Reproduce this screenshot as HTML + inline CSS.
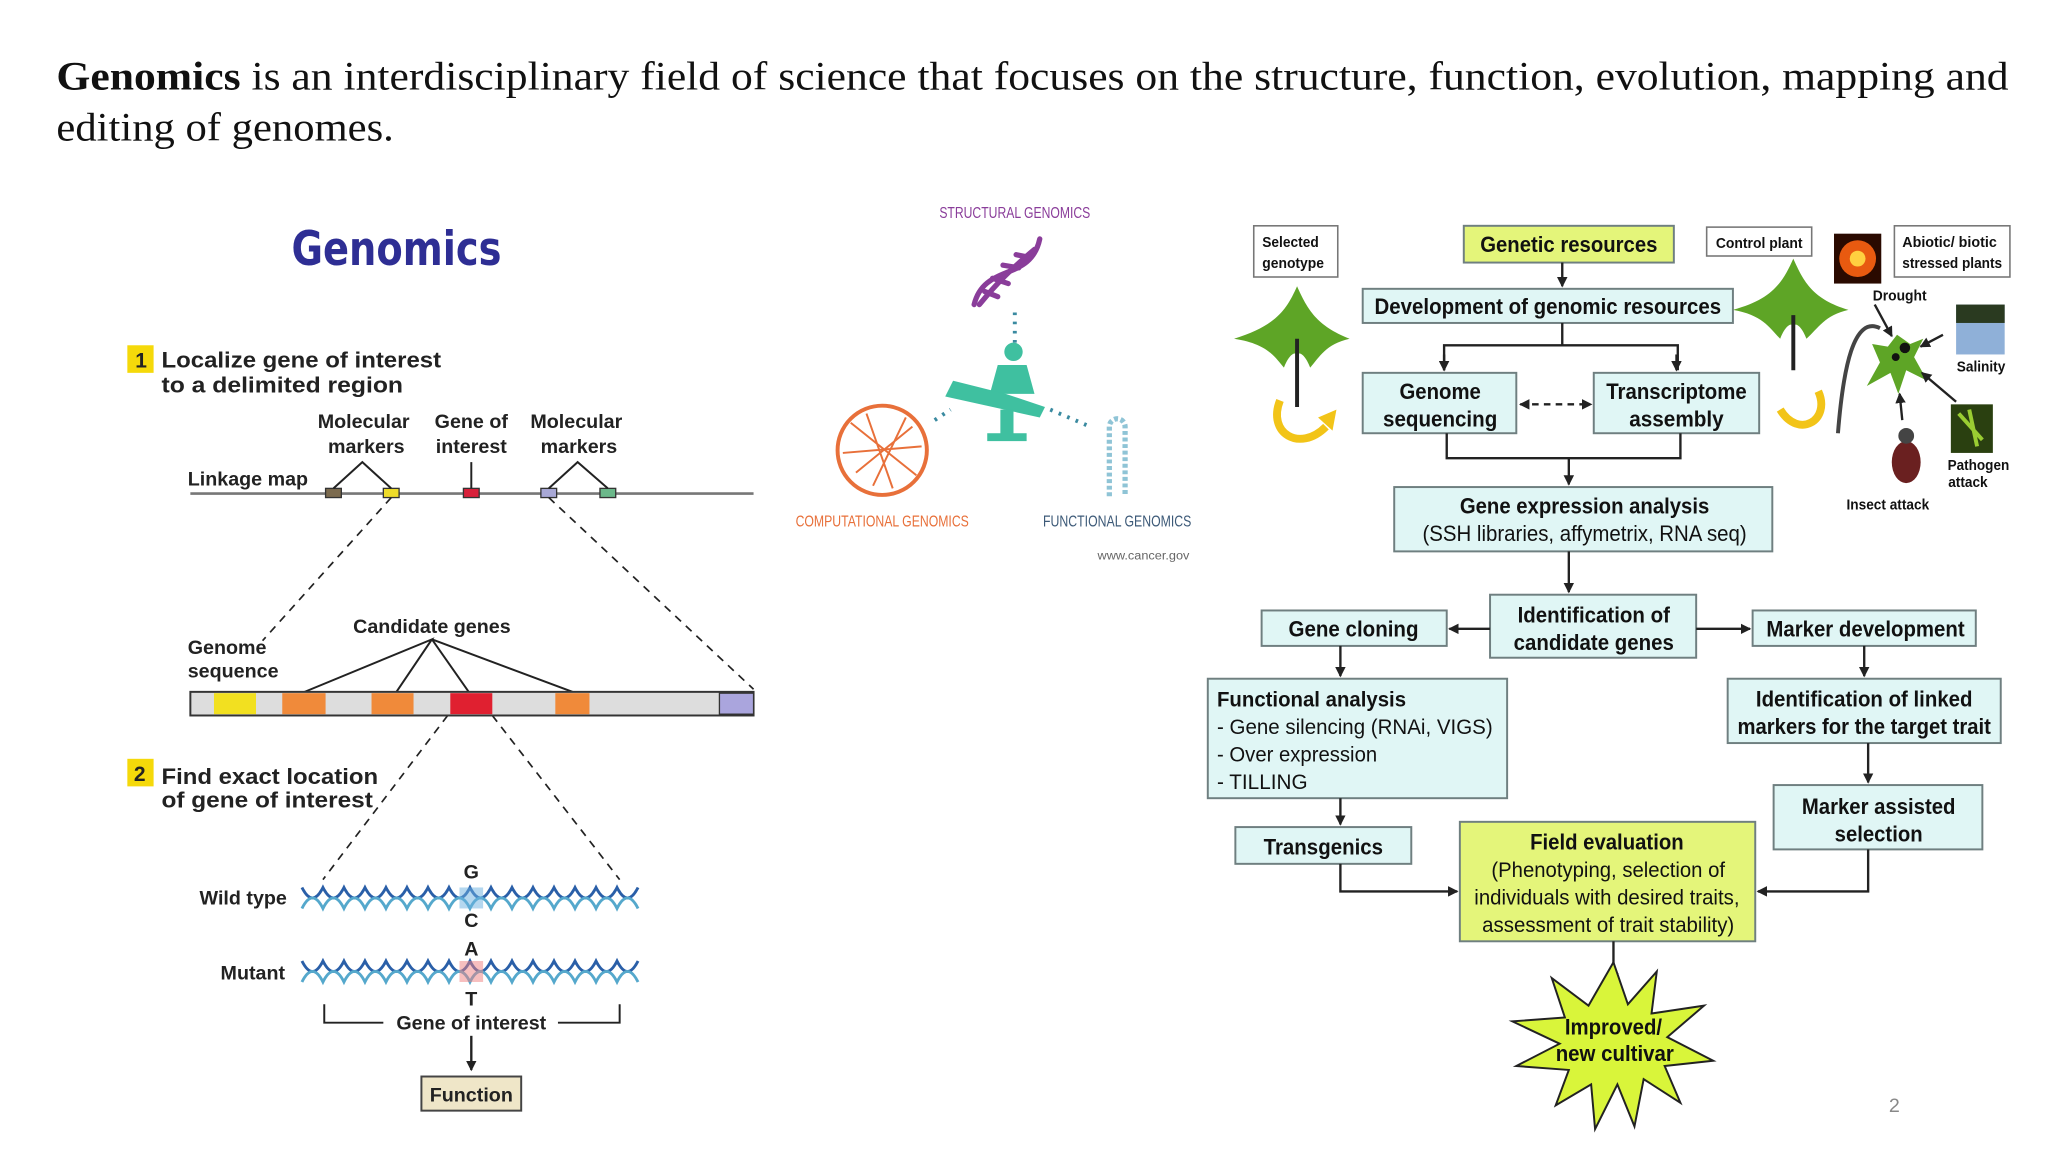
<!DOCTYPE html>
<html><head><meta charset="utf-8"><style>
html,body{margin:0;padding:0;background:#fff;width:2048px;height:1152px;overflow:hidden}
svg{display:block}
.h{font-family:"Liberation Serif",serif;font-size:31px;fill:#111}
.l{font-family:"Liberation Sans",sans-serif;font-weight:bold;fill:#222}
.n{font-family:"Liberation Sans",sans-serif;fill:#111}
.b{fill:#e0f6f5;stroke:#6f7f80;stroke-width:1.5}
.g{fill:#e4f57a;stroke:#6f7f80;stroke-width:1.5}
.w{fill:#fff;stroke:#777;stroke-width:1.2}
.c{stroke:#222;stroke-width:1.8;fill:none}
</style></head><body>
<svg width="2048" height="1152" viewBox="0 0 1560 877.5" xmlns="http://www.w3.org/2000/svg">
<defs>
<marker id="a" markerWidth="8" markerHeight="8" refX="7" refY="4" orient="auto" markerUnits="userSpaceOnUse"><path d="M0,0 L8,4 L0,8 Z" fill="#222"/></marker>
<marker id="s" markerWidth="8" markerHeight="8" refX="1" refY="4" orient="auto" markerUnits="userSpaceOnUse"><path d="M8,0 L0,4 L8,8 Z" fill="#222"/></marker>
</defs>
<rect width="1560" height="877.5" fill="#fff"/>
<!-- header -->
<text class="h" x="43" y="68" textLength="1487" lengthAdjust="spacingAndGlyphs"><tspan font-weight="bold">Genomics</tspan> is an interdisciplinary field of science that focuses on the structure, function, evolution, mapping and</text>
<text class="h" x="43" y="107" textLength="257" lengthAdjust="spacingAndGlyphs">editing of genomes.</text>

<!-- LEFT -->
<text x="302" y="202" text-anchor="middle" font-family="'DejaVu Sans',sans-serif" font-weight="bold" font-size="36" fill="#2e2e94" textLength="160" lengthAdjust="spacingAndGlyphs">Genomics</text>
<rect x="97" y="263" width="20" height="21" fill="#f5d90a"/>
<text class="l" x="103" y="280" font-size="16">1</text>
<text class="l" x="123" y="280" font-size="17" textLength="213" lengthAdjust="spacingAndGlyphs">Localize gene of interest</text>
<text class="l" x="123" y="299" font-size="17" textLength="184" lengthAdjust="spacingAndGlyphs">to a delimited region</text>
<g class="l" font-size="15" text-anchor="middle">
<text x="277" y="326">Molecular</text><text x="279" y="345">markers</text>
<text x="359" y="326">Gene of</text><text x="359" y="345">interest</text>
<text x="439" y="326">Molecular</text><text x="441" y="345">markers</text>
<text x="329" y="482">Candidate genes</text>
<text x="359" y="784">Gene of interest</text>
<text x="359" y="669">G</text><text x="359" y="706">C</text><text x="359" y="728">A</text><text x="359" y="766">T</text>
</g>
<text class="l" x="143" y="370" font-size="15">Linkage map</text>
<text class="l" x="143" y="498" font-size="15">Genome</text>
<text class="l" x="143" y="516" font-size="15">sequence</text>
<line x1="145" y1="376" x2="574" y2="376" stroke="#777" stroke-width="2"/>
<g stroke="#333" stroke-width="1">
<rect x="248" y="372" width="12" height="7" fill="#7b6a4e"/>
<rect x="292" y="372" width="12" height="7" fill="#eedc2a"/>
<rect x="353" y="372" width="12" height="7" fill="#d8203a"/>
<rect x="412" y="372" width="12" height="7" fill="#a8a8d6"/>
<rect x="457" y="372" width="12" height="7" fill="#6bb88a"/>
</g>
<g stroke="#222" stroke-width="1.5" fill="none">
<path d="M254,372 L276,352 L298,372"/><path d="M418,372 L440,352 L463,372"/><line x1="359" y1="352" x2="359" y2="372"/>
<path d="M232,527 L329,487 L302,527 M329,487 L357,527 M329,487 L436,527"/>
<path d="M247,765 V779 H292 M425,779 H472 V765"/>
</g>
<g stroke="#222" stroke-width="1.3" stroke-dasharray="6,5" fill="none">
<line x1="298" y1="379" x2="200" y2="488"/><line x1="418" y1="379" x2="574" y2="525"/>
<line x1="341" y1="545" x2="246" y2="670"/><line x1="375" y1="545" x2="472" y2="670"/>
</g>
<rect x="145" y="527" width="429" height="18" fill="#ddd" stroke="#333" stroke-width="1.5"/>
<rect x="163" y="528" width="32" height="16" fill="#f2e020"/>
<rect x="215" y="528" width="33" height="16" fill="#f08a3a"/>
<rect x="283" y="528" width="32" height="16" fill="#f08a3a"/>
<rect x="343" y="528" width="32" height="16" fill="#e02030"/>
<rect x="423" y="528" width="26" height="16" fill="#f08a3a"/>
<rect x="548" y="528" width="26" height="16" fill="#aaa5dd" stroke="#333"/>
<rect x="97" y="578" width="20" height="21" fill="#f5d90a"/>
<text class="l" x="102" y="595" font-size="16">2</text>
<text class="l" x="123" y="597" font-size="17" textLength="165" lengthAdjust="spacingAndGlyphs">Find exact location</text>
<text class="l" x="123" y="615" font-size="17" textLength="161" lengthAdjust="spacingAndGlyphs">of gene of interest</text>
<text class="l" x="152" y="689" font-size="15">Wild type</text>
<text class="l" x="168" y="746" font-size="15">Mutant</text>
<g fill="none" stroke-width="2.2">
<path d="M230,676 q8,16 16,0 q8,16 16,0 q8,16 16,0 q8,16 16,0 q8,16 16,0 q8,16 16,0 q8,16 16,0 q8,16 16,0 q8,16 16,0 q8,16 16,0 q8,16 16,0 q8,16 16,0 q8,16 16,0 q8,16 16,0 q8,16 16,0 q8,16 16,0" stroke="#2a5fa8"/>
<path d="M230,692 q8,-16 16,0 q8,-16 16,0 q8,-16 16,0 q8,-16 16,0 q8,-16 16,0 q8,-16 16,0 q8,-16 16,0 q8,-16 16,0 q8,-16 16,0 q8,-16 16,0 q8,-16 16,0 q8,-16 16,0 q8,-16 16,0 q8,-16 16,0 q8,-16 16,0 q8,-16 16,0" stroke="#55a8cc"/>
<path d="M230,732 q8,16 16,0 q8,16 16,0 q8,16 16,0 q8,16 16,0 q8,16 16,0 q8,16 16,0 q8,16 16,0 q8,16 16,0 q8,16 16,0 q8,16 16,0 q8,16 16,0 q8,16 16,0 q8,16 16,0 q8,16 16,0 q8,16 16,0 q8,16 16,0" stroke="#2a5fa8"/>
<path d="M230,748 q8,-16 16,0 q8,-16 16,0 q8,-16 16,0 q8,-16 16,0 q8,-16 16,0 q8,-16 16,0 q8,-16 16,0 q8,-16 16,0 q8,-16 16,0 q8,-16 16,0 q8,-16 16,0 q8,-16 16,0 q8,-16 16,0 q8,-16 16,0 q8,-16 16,0 q8,-16 16,0" stroke="#55a8cc"/>
</g>
<rect x="350" y="676" width="18" height="16" fill="#6ab0e0" opacity=".5"/>
<rect x="350" y="732" width="18" height="16" fill="#f08080" opacity=".5"/>
<line x1="359" y1="789" x2="359" y2="815" class="c" marker-end="url(#a)"/>
<rect x="321" y="820" width="76" height="26" fill="#efe6c8" stroke="#444" stroke-width="1.5"/>
<text class="l" x="359" y="839" font-size="15" text-anchor="middle">Function</text>

<!-- MIDDLE -->
<text x="773" y="166" text-anchor="middle" class="n" font-size="12" style="fill:#8a3d9a" textLength="115" lengthAdjust="spacingAndGlyphs">STRUCTURAL GENOMICS</text>
<g stroke="#8a3d9a" stroke-width="4" fill="none" stroke-linecap="round">
<path d="M742,232 C750,200 785,215 792,182"/><path d="M746,232 C760,215 770,205 788,190"/>
<path d="M750,222 l10,4 M756,212 l12,4 M764,202 l12,2 M774,194 l10,2"/>
</g>
<line x1="773" y1="238" x2="773" y2="262" stroke="#3a8aa0" stroke-width="3" stroke-dasharray="2,5"/>
<g fill="#3fc0a0">
<circle cx="772" cy="268" r="7"/><path d="M760,278 h22 l6,22 h-34 z"/><path d="M726,290 l40,10 l30,10 l-4,8 l-72,-16 z"/><rect x="762" y="312" width="10" height="20"/><rect x="752" y="330" width="30" height="6"/>
</g>
<path d="M712,320 l12,-8 M800,312 l28,12" stroke="#3a8aa0" stroke-width="3" stroke-dasharray="2,5"/>
<circle cx="672" cy="343" r="34" fill="#fff" stroke="#e8703a" stroke-width="3"/>
<path d="M648,322 L698,362 M652,360 L695,325 M660,315 L680,372 M642,345 L702,340 M665,370 L690,318" stroke="#e8703a" stroke-width="1.5"/>
<text x="672" y="401" text-anchor="middle" class="n" font-size="12" style="fill:#e8703a" textLength="132" lengthAdjust="spacingAndGlyphs">COMPUTATIONAL GENOMICS</text>
<path d="M845,378 V325 a6,6 0 1 1 12,0 V378" fill="none" stroke="#8fc4d6" stroke-width="4" stroke-dasharray="3,2"/>
<text x="851" y="401" text-anchor="middle" class="n" font-size="12" style="fill:#3d5a78" textLength="113" lengthAdjust="spacingAndGlyphs">FUNCTIONAL GENOMICS</text>
<text x="871" y="426" text-anchor="middle" class="n" font-size="9" style="fill:#666" textLength="70" lengthAdjust="spacingAndGlyphs">www.cancer.gov</text>

<!-- RIGHT flowchart -->
<g class="n" font-weight="bold" text-anchor="middle" lengthAdjust="spacingAndGlyphs">
<rect class="w" x="955" y="172" width="64" height="39"/><text x="983" y="188" font-size="11" textLength="43" lengthAdjust="spacingAndGlyphs">Selected</text><text x="985" y="204" font-size="11" textLength="47" lengthAdjust="spacingAndGlyphs">genotype</text>
<rect class="g" x="1115" y="172" width="160" height="28"/><text x="1195" y="192" font-size="17" textLength="135" lengthAdjust="spacingAndGlyphs">Genetic resources</text>
<rect class="w" x="1300" y="173" width="80" height="22"/><text x="1340" y="189" font-size="11" textLength="66" lengthAdjust="spacingAndGlyphs">Control plant</text>
<rect class="w" x="1443" y="172" width="88" height="39"/><text x="1485" y="188" font-size="11" textLength="72" lengthAdjust="spacingAndGlyphs">Abiotic/  biotic</text><text x="1487" y="204" font-size="11" textLength="76" lengthAdjust="spacingAndGlyphs">stressed plants</text>
<rect class="b" x="1038" y="220" width="282" height="26"/><text x="1179" y="239" font-size="17" textLength="264" lengthAdjust="spacingAndGlyphs">Development of genomic resources</text>
<rect class="b" x="1038" y="284" width="117" height="46"/><text x="1097" y="304" font-size="17" textLength="62" lengthAdjust="spacingAndGlyphs">Genome</text><text x="1097" y="325" font-size="17" textLength="87" lengthAdjust="spacingAndGlyphs">sequencing</text>
<rect class="b" x="1214" y="284" width="126" height="46"/><text x="1277" y="304" font-size="17" textLength="107" lengthAdjust="spacingAndGlyphs">Transcriptome</text><text x="1277" y="325" font-size="17" textLength="72" lengthAdjust="spacingAndGlyphs">assembly</text>
<rect class="b" x="1062" y="371" width="288" height="49"/><text x="1207" y="391" font-size="17" textLength="190" lengthAdjust="spacingAndGlyphs">Gene expression analysis</text><text x="1207" y="412" font-size="17" font-weight="normal" textLength="247" lengthAdjust="spacingAndGlyphs">(SSH libraries, affymetrix, RNA seq)</text>
<rect class="b" x="1135" y="453" width="157" height="48"/><text x="1214" y="474" font-size="17" textLength="116" lengthAdjust="spacingAndGlyphs">Identification of</text><text x="1214" y="495" font-size="17" textLength="122" lengthAdjust="spacingAndGlyphs">candidate genes</text>
<rect class="b" x="961" y="465" width="141" height="27"/><text x="1031" y="485" font-size="17" textLength="99" lengthAdjust="spacingAndGlyphs">Gene cloning</text>
<rect class="b" x="1335" y="465" width="170" height="27"/><text x="1421" y="485" font-size="17" textLength="151" lengthAdjust="spacingAndGlyphs">Marker development</text>
<rect class="b" x="920" y="517" width="228" height="91"/>
<rect class="b" x="1316" y="517" width="208" height="49"/><text x="1420" y="538" font-size="17" textLength="165" lengthAdjust="spacingAndGlyphs">Identification of linked</text><text x="1420" y="559" font-size="17" textLength="193" lengthAdjust="spacingAndGlyphs">markers for the target trait</text>
<rect class="b" x="1351" y="598" width="159" height="49"/><text x="1431" y="620" font-size="17" textLength="117" lengthAdjust="spacingAndGlyphs">Marker assisted</text><text x="1431" y="641" font-size="17" textLength="67" lengthAdjust="spacingAndGlyphs">selection</text>
<rect class="b" x="941" y="630" width="134" height="28"/><text x="1008" y="651" font-size="17" textLength="91" lengthAdjust="spacingAndGlyphs">Transgenics</text>
<rect class="g" x="1112" y="626" width="225" height="91"/><text x="1224" y="647" font-size="17" textLength="117" lengthAdjust="spacingAndGlyphs">Field evaluation</text>
<g font-weight="normal" font-size="16"><text x="1225" y="668" textLength="178" lengthAdjust="spacingAndGlyphs">(Phenotyping, selection of</text><text x="1224" y="689" textLength="202" lengthAdjust="spacingAndGlyphs">individuals with desired traits,</text><text x="1225" y="710" textLength="192" lengthAdjust="spacingAndGlyphs">assessment of trait stability)</text></g>
</g>
<g class="n" font-size="16">
<text x="927" y="538" font-weight="bold" textLength="144" lengthAdjust="spacingAndGlyphs">Functional analysis</text>
<text x="927" y="559" textLength="210" lengthAdjust="spacingAndGlyphs">- Gene silencing (RNAi, VIGS)</text>
<text x="927" y="580" textLength="122" lengthAdjust="spacingAndGlyphs">- Over expression</text>
<text x="927" y="601" textLength="69" lengthAdjust="spacingAndGlyphs">- TILLING</text>
</g>
<!-- connectors -->
<g class="c">
<line x1="1190" y1="200" x2="1190" y2="218" marker-end="url(#a)"/>
<path d="M1190,246 V263 M1100,282 V263 H1278 V282"/>
<line x1="1100" y1="270" x2="1100" y2="282" marker-end="url(#a)"/><line x1="1277" y1="270" x2="1277" y2="282" marker-end="url(#a)"/>
<line x1="1158" y1="308" x2="1212" y2="308" stroke-dasharray="5,4" marker-start="url(#s)" marker-end="url(#a)"/>
<path d="M1102,330 V349 H1280 V330"/>
<line x1="1195" y1="349" x2="1195" y2="369" marker-end="url(#a)"/>
<line x1="1195" y1="420" x2="1195" y2="451" marker-end="url(#a)"/>
<line x1="1135" y1="479" x2="1104" y2="479" marker-end="url(#a)"/>
<line x1="1292" y1="479" x2="1333" y2="479" marker-end="url(#a)"/>
<line x1="1021" y1="492" x2="1021" y2="515" marker-end="url(#a)"/>
<line x1="1420" y1="492" x2="1420" y2="515" marker-end="url(#a)"/>
<line x1="1021" y1="608" x2="1021" y2="628" marker-end="url(#a)"/>
<line x1="1423" y1="566" x2="1423" y2="596" marker-end="url(#a)"/>
<path d="M1021,658 V679 H1110" marker-end="url(#a)"/>
<path d="M1423,647 V679 H1339" marker-end="url(#a)"/>
<line x1="1229" y1="717" x2="1229" y2="748" marker-end="url(#a)"/>
</g>
<!-- starburst -->
<polygon points="1229,733 1240,765 1262,740 1258,772 1298,766 1270,790 1305,808 1268,812 1280,840 1252,822 1245,858 1232,826 1215,860 1212,826 1185,842 1195,815 1155,812 1188,795 1152,778 1192,775 1182,745 1210,766" fill="#d9f53a" stroke="#222" stroke-width="1.5"/>
<text class="n" x="1229" y="788" text-anchor="middle" font-size="17" font-weight="bold" textLength="74" lengthAdjust="spacingAndGlyphs">Improved/</text>
<text class="n" x="1230" y="808" text-anchor="middle" font-size="17" font-weight="bold" textLength="90" lengthAdjust="spacingAndGlyphs">new cultivar</text>
<text x="1443" y="847" text-anchor="middle" font-family="'Liberation Sans',sans-serif" font-size="15" fill="#888">2</text>
<!-- plants -->
<g fill="#5ea526">
<path d="M988,218 C996,236 1003,248 1028,258 C1010,262 1005,272 998,280 C994,270 990,268 988,270 C986,268 982,270 978,280 C971,272 966,262 940,258 C972,248 980,236 988,218 Z"/>
<path d="M1366,197 C1374,215 1381,228 1408,236 C1390,240 1385,250 1376,258 C1372,248 1368,246 1366,248 C1364,246 1360,248 1356,258 C1348,250 1343,240 1320,236 C1350,228 1358,215 1366,197 Z"/>
<path d="M1445,255 L1455,262 L1465,258 L1458,272 L1468,290 L1452,282 L1446,300 L1440,284 L1422,294 L1432,276 L1426,262 L1438,264 Z"/>
</g>
<circle cx="1444" cy="272" r="3" fill="#111"/><circle cx="1451" cy="265" r="4" fill="#111"/>
<line x1="988" y1="258" x2="988" y2="310" stroke="#222" stroke-width="3"/>
<line x1="1366" y1="240" x2="1366" y2="282" stroke="#222" stroke-width="3"/>
<path d="M1400,330 C1404,280 1412,240 1432,250" stroke="#444" stroke-width="3" fill="none"/>
<path d="M975,305 C965,330 990,345 1010,325" stroke="#f2c418" stroke-width="6" fill="none"/><path d="M1004,318 l14,-6 l-3,16 z" fill="#f2c418"/>
<path d="M1385,298 C1395,320 1370,335 1356,312" stroke="#f2c418" stroke-width="6" fill="none"/>
<rect x="1397" y="178" width="36" height="38" fill="#2a0a00"/>
<circle cx="1415" cy="197" r="14" fill="#e85a10"/><circle cx="1415" cy="197" r="6" fill="#ffd040"/>
<rect x="1490" y="232" width="37" height="38" fill="#8fb0d8"/><rect x="1490" y="232" width="37" height="14" fill="#2a3a20"/>
<rect x="1486" y="308" width="32" height="37" fill="#2a4010"/><path d="M1492,315 l18,20 M1500,312 l6,28" stroke="#9acd32" stroke-width="3"/>
<ellipse cx="1452" cy="352" rx="11" ry="16" fill="#6a2020"/><circle cx="1452" cy="332" r="6" fill="#444"/>
<g class="c" stroke-width="1.5">
<line x1="1428" y1="232" x2="1441" y2="256" marker-end="url(#a)"/>
<line x1="1480" y1="255" x2="1463" y2="264" marker-end="url(#a)"/>
<line x1="1490" y1="306" x2="1464" y2="284" marker-end="url(#a)"/>
<line x1="1449" y1="320" x2="1447" y2="300" marker-end="url(#a)"/>
</g>
<g class="n" font-weight="bold" font-size="11" text-anchor="middle">
<text x="1447" y="229" textLength="41" lengthAdjust="spacingAndGlyphs">Drought</text><text x="1509" y="283" textLength="37" lengthAdjust="spacingAndGlyphs">Salinity</text>
<text x="1507" y="358" textLength="47" lengthAdjust="spacingAndGlyphs">Pathogen</text><text x="1499" y="371" textLength="30" lengthAdjust="spacingAndGlyphs">attack</text><text x="1438" y="388" textLength="63" lengthAdjust="spacingAndGlyphs">Insect attack</text>
</g>
</svg>
</body></html>
